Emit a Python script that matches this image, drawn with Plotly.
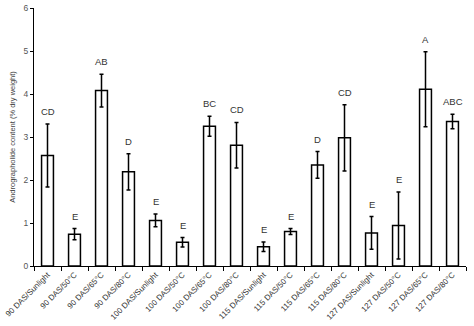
import plotly.graph_objects as go

# Treatments (harvest age / drying method)
categories = [
    "90 DAS/Sunlight", "90 DAS/50°C", "90 DAS/65°C", "90 DAS/80°C",
    "100 DAS/Sunlight", "100 DAS/50°C", "100 DAS/65°C", "100 DAS/80°C",
    "115 DAS/Sunlight", "115 DAS/50°C", "115 DAS/65°C", "115 DAS/80°C",
    "127 DAS/Sunlight", "127 DAS/50°C", "127 DAS/65°C", "127 DAS/80°C",
]
# Andrographolide content (% dry weight) and standard errors
content = [2.57, 0.74, 4.08, 2.19, 1.06, 0.55, 3.25, 2.81,
           0.45, 0.80, 2.35, 2.98, 0.77, 0.94, 4.11, 3.36]
error = [0.73, 0.13, 0.38, 0.42, 0.15, 0.11, 0.23, 0.53,
         0.11, 0.07, 0.31, 0.77, 0.38, 0.78, 0.87, 0.17]
# Significance groups
letters = ["CD", "E", "AB", "D", "E", "E", "BC", "CD",
           "E", "E", "D", "CD", "E", "E", "A", "ABC"]

font_family = "Arial, Liberation Sans, sans-serif"

fig = go.Figure(
    go.Bar(
        x=categories,
        y=content,
        width=0.44,
        marker=dict(color="white", line=dict(color="black", width=1.5)),
        error_y=dict(type="data", array=error, visible=True,
                     color="black", thickness=1.5, width=2),
        showlegend=False,
    )
)

for cat, val, err, lab in zip(categories, content, error, letters):
    fig.add_annotation(
        x=cat, y=val + err, text=lab, showarrow=False,
        yanchor="bottom", yshift=5,
        font=dict(family=font_family, size=9.5, color="#333333"),
    )

fig.update_layout(
    width=474, height=326,
    margin=dict(l=34, r=8, t=8, b=60),
    paper_bgcolor="white", plot_bgcolor="white",
    font=dict(family=font_family, color="#444444"),
)

fig.update_xaxes(
    type="category",
    automargin=False,
    tickson="boundaries",
    ticks="outside", ticklen=4, tickcolor="black", tickwidth=1,
    tickangle=-45,
    tickfont=dict(size=8, color="#333333"),
    showline=True, linecolor="black", linewidth=1.2,
    showgrid=False,
)

fig.update_yaxes(
    automargin=False,
    range=[0, 6], dtick=1,
    ticks="outside", ticklen=3, tickcolor="black",
    tickfont=dict(size=8.5, color="#555555"),
    showline=True, linecolor="black", linewidth=1.2,
    showgrid=False, zeroline=False,
    title=dict(text="Andrographolide content (% dry weight)",
               font=dict(size=7.5, color="#444444"), standoff=6),
)

fig.write_html("out.html")
